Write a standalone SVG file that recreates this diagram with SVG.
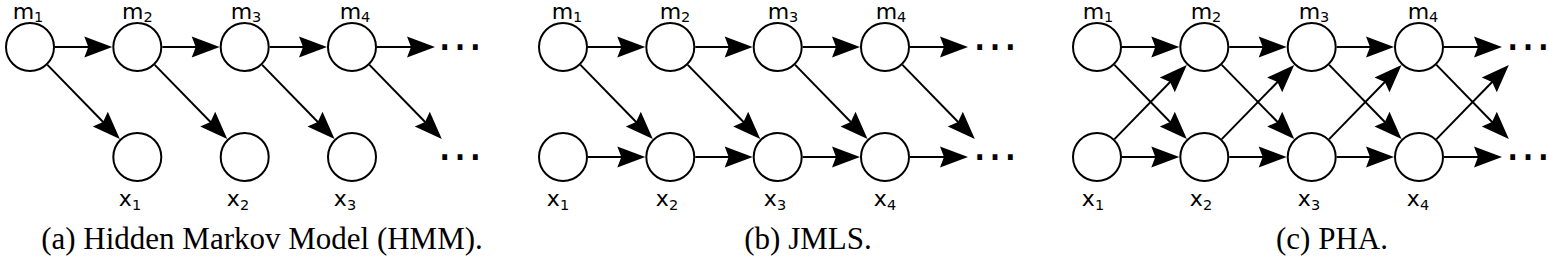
<svg xmlns="http://www.w3.org/2000/svg" width="1548" height="262" viewBox="0 0 1548 262">
<style>
.n{fill:#fff;stroke:#000;stroke-width:2}
.e{stroke:#000;stroke-width:2;fill:none;marker-end:url(#ah)}
.lb{font-family:"DejaVu Sans",sans-serif;font-size:22px;fill:#000;text-anchor:middle}
.sub{font-size:14.5px}
.dots{font-family:"DejaVu Sans",sans-serif;font-size:46px;fill:#000}
.cap{font-family:"Liberation Serif","Times New Roman",serif;font-size:31px;fill:#000;text-anchor:middle}
</style>
<defs>
<marker id="ah" viewBox="-20 -12 32 24" refX="0" refY="0" markerWidth="32" markerHeight="24" markerUnits="userSpaceOnUse" orient="auto">
<path d="M10,0 L-18,-10.5 L-14,0 L-18,10.5 Z" fill="#000"/>
</marker>
</defs>

<!-- Panel (a) -->
<g id="panel-a">
<g id="a-connectors">
<line class="e" x1="55" y1="47" x2="102.3" y2="47"/>
<line class="e" x1="162.3" y1="47" x2="209.7" y2="47"/>
<line class="e" x1="269.7" y1="47" x2="317" y2="47"/>
<line class="e" x1="377" y1="47" x2="425" y2="47"/>
<line class="e" x1="47.46" y1="64.9" x2="112.86" y2="131.95"/>
<line class="e" x1="154.76" y1="64.9" x2="220.26" y2="131.95"/>
<line class="e" x1="262.16" y1="64.9" x2="327.56" y2="131.95"/>
<line class="e" x1="369.46" y1="64.9" x2="434.86" y2="131.95"/>
</g>
<g id="a-m1"><circle class="n" cx="30" cy="47" r="24"/><text class="lb" x="28" y="18.5">m<tspan class="sub" dy="3.5">1</tspan></text></g>
<g id="a-m2"><circle class="n" cx="137.3" cy="47" r="24"/><text class="lb" x="137.3" y="18.5">m<tspan class="sub" dy="3.5">2</tspan></text></g>
<g id="a-m3"><circle class="n" cx="244.7" cy="47" r="24"/><text class="lb" x="246" y="18.5">m<tspan class="sub" dy="3.5">3</tspan></text></g>
<g id="a-m4"><circle class="n" cx="352" cy="47" r="24"/><text class="lb" x="355" y="18.5">m<tspan class="sub" dy="3.5">4</tspan></text></g>
<g id="a-x1"><circle class="n" cx="137.3" cy="157" r="24"/><text class="lb" x="130" y="206">x<tspan class="sub" dy="3.5">1</tspan></text></g>
<g id="a-x2"><circle class="n" cx="244.7" cy="157" r="24"/><text class="lb" x="238" y="206">x<tspan class="sub" dy="3.5">2</tspan></text></g>
<g id="a-x3"><circle class="n" cx="352" cy="157" r="24"/><text class="lb" x="345" y="206">x<tspan class="sub" dy="3.5">3</tspan></text></g>
<g id="a-dots"><text class="dots" x="437" y="50">…</text><text class="dots" x="437" y="160">…</text></g>
<text class="cap" x="262" y="249">(a) Hidden Markov Model (HMM).</text>
</g>

<!-- Panel (b) -->
<g id="panel-b" transform="translate(533,0)">
<g id="b-connectors">
<line class="e" x1="55" y1="47" x2="102.3" y2="47"/>
<line class="e" x1="162.3" y1="47" x2="209.7" y2="47"/>
<line class="e" x1="269.7" y1="47" x2="317" y2="47"/>
<line class="e" x1="377" y1="47" x2="425" y2="47"/>
<line class="e" x1="55" y1="157" x2="102.3" y2="157"/>
<line class="e" x1="162.3" y1="157" x2="209.7" y2="157"/>
<line class="e" x1="269.7" y1="157" x2="317" y2="157"/>
<line class="e" x1="377" y1="157" x2="425" y2="157"/>
<line class="e" x1="47.46" y1="64.9" x2="112.86" y2="131.95"/>
<line class="e" x1="154.76" y1="64.9" x2="220.26" y2="131.95"/>
<line class="e" x1="262.16" y1="64.9" x2="327.56" y2="131.95"/>
<line class="e" x1="369.46" y1="64.9" x2="434.86" y2="131.95"/>
</g>
<g id="b-m1"><circle class="n" cx="30" cy="47" r="24"/><text class="lb" x="34" y="18.5">m<tspan class="sub" dy="3.5">1</tspan></text></g>
<g id="b-m2"><circle class="n" cx="137.3" cy="47" r="24"/><text class="lb" x="142" y="18.5">m<tspan class="sub" dy="3.5">2</tspan></text></g>
<g id="b-m3"><circle class="n" cx="244.7" cy="47" r="24"/><text class="lb" x="250" y="18.5">m<tspan class="sub" dy="3.5">3</tspan></text></g>
<g id="b-m4"><circle class="n" cx="352" cy="47" r="24"/><text class="lb" x="358" y="18.5">m<tspan class="sub" dy="3.5">4</tspan></text></g>
<g id="b-x1"><circle class="n" cx="30" cy="157" r="24"/><text class="lb" x="25" y="206">x<tspan class="sub" dy="3.5">1</tspan></text></g>
<g id="b-x2"><circle class="n" cx="137.3" cy="157" r="24"/><text class="lb" x="134" y="206">x<tspan class="sub" dy="3.5">2</tspan></text></g>
<g id="b-x3"><circle class="n" cx="244.7" cy="157" r="24"/><text class="lb" x="242" y="206">x<tspan class="sub" dy="3.5">3</tspan></text></g>
<g id="b-x4"><circle class="n" cx="352" cy="157" r="24"/><text class="lb" x="352" y="206">x<tspan class="sub" dy="3.5">4</tspan></text></g>
<g id="b-dots"><text class="dots" x="439" y="50">…</text><text class="dots" x="439" y="160">…</text></g>
<text class="cap" x="275" y="249">(b) JMLS.</text>
</g>

<!-- Panel (c) -->
<g id="panel-c" transform="translate(1067,0)">
<g id="c-connectors">
<line class="e" x1="55" y1="47" x2="102.3" y2="47"/>
<line class="e" x1="162.3" y1="47" x2="209.7" y2="47"/>
<line class="e" x1="269.7" y1="47" x2="317" y2="47"/>
<line class="e" x1="377" y1="47" x2="425" y2="47"/>
<line class="e" x1="55" y1="157" x2="102.3" y2="157"/>
<line class="e" x1="162.3" y1="157" x2="209.7" y2="157"/>
<line class="e" x1="269.7" y1="157" x2="317" y2="157"/>
<line class="e" x1="377" y1="157" x2="425" y2="157"/>
<line class="e" x1="47.46" y1="64.9" x2="112.86" y2="131.95"/>
<line class="e" x1="154.76" y1="64.9" x2="220.26" y2="131.95"/>
<line class="e" x1="262.16" y1="64.9" x2="327.56" y2="131.95"/>
<line class="e" x1="369.46" y1="64.9" x2="434.86" y2="131.95"/>
<line class="e" x1="47.46" y1="139.1" x2="112.86" y2="72.05"/>
<line class="e" x1="154.76" y1="139.1" x2="220.26" y2="72.05"/>
<line class="e" x1="262.16" y1="139.1" x2="327.56" y2="72.05"/>
<line class="e" x1="369.46" y1="139.1" x2="434.86" y2="72.05"/>
</g>
<g id="c-m1"><circle class="n" cx="30" cy="47" r="24"/><text class="lb" x="31" y="18.5">m<tspan class="sub" dy="3.5">1</tspan></text></g>
<g id="c-m2"><circle class="n" cx="137.3" cy="47" r="24"/><text class="lb" x="139" y="18.5">m<tspan class="sub" dy="3.5">2</tspan></text></g>
<g id="c-m3"><circle class="n" cx="244.7" cy="47" r="24"/><text class="lb" x="247" y="18.5">m<tspan class="sub" dy="3.5">3</tspan></text></g>
<g id="c-m4"><circle class="n" cx="352" cy="47" r="24"/><text class="lb" x="356" y="18.5">m<tspan class="sub" dy="3.5">4</tspan></text></g>
<g id="c-x1"><circle class="n" cx="30" cy="157" r="24"/><text class="lb" x="26" y="206">x<tspan class="sub" dy="3.5">1</tspan></text></g>
<g id="c-x2"><circle class="n" cx="137.3" cy="157" r="24"/><text class="lb" x="134" y="206">x<tspan class="sub" dy="3.5">2</tspan></text></g>
<g id="c-x3"><circle class="n" cx="244.7" cy="157" r="24"/><text class="lb" x="242" y="206">x<tspan class="sub" dy="3.5">3</tspan></text></g>
<g id="c-x4"><circle class="n" cx="352" cy="157" r="24"/><text class="lb" x="351" y="206">x<tspan class="sub" dy="3.5">4</tspan></text></g>
<g id="c-dots"><text class="dots" x="438" y="50">…</text><text class="dots" x="438" y="160">…</text></g>
<text class="cap" x="265" y="249">(c) PHA.</text>
</g>
</svg>
